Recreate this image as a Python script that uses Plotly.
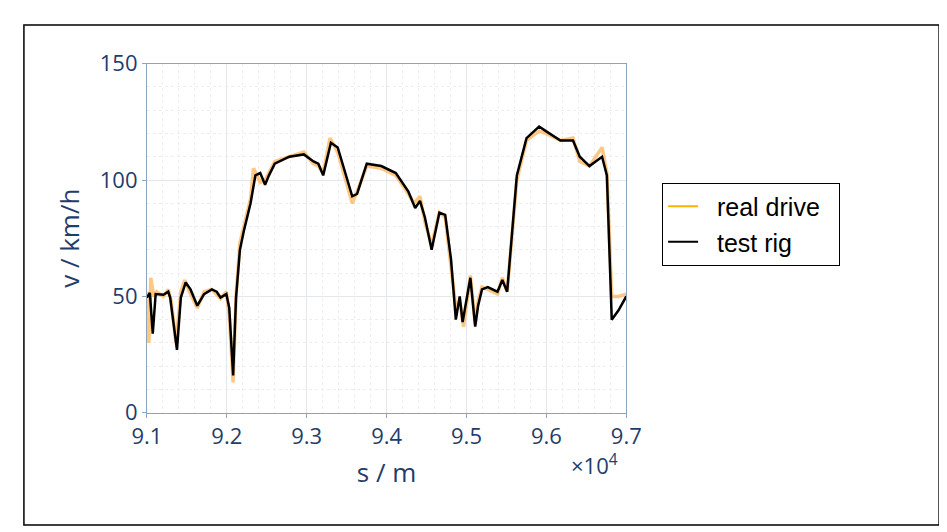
import plotly.graph_objects as go

px_rig = [128,131,134,137,145,150,152,159,163,168,173,180,187,195,200,204,210,213,217,220,224,228,235,240,245,250,254,260,275,290,300,305,310,318,325,340,345,355,370,385,398,405,410,415,422,430,436,442,447,451,454,462,467,470,474,480,490,495,500,510,520,533,540,555,568,575,585,598,603,608,615,623]
v_rig = [49.5,51.5,34,51,50.7,52,49.5,27,49.5,56,53,46,51,53,52,49.5,51,45,16,49.5,70,78,90,102,103,98,102,107,110,111,108,107,102,116,114,93,94,107,106,103,95,88,91,84,70,86,85,66,40,50,39,58,37,46,53,54,52,57,52,102,118,123,121,117,117,110,106,110,102,40,44,50]
s_rig = [91000 + (p - 128) * 6000 / 495 for p in px_rig]

px_real = [128,130,132,135,138,145,150,153,158,163,167,172,180,187,195,200,204,210,213,217,220,224,228,235,238,245,250,254,260,275,290,300,305,310,317,325,340,345,355,370,385,398,404,410,415,422,430,436,442,447,451,455,462,467,470,474,480,490,495,500,510,520,533,540,555,568,575,585,598,603,608,615,623]
v_real = [52,30,58,50,52,50,53,48,30,52,57,52,45,52,53,51,49,52,42,13,50,73,80,92,105,99,100,103,108,110,112,107,106,103,118,112,90,95,106,105,102,94,90,93,82,72,86,84,64,45,48,37,59,38,48,54,53,51,58,52,100,117,121,120,117,118,108,106,114,103,50,50,51]
s_real = [91000 + (p - 128) * 6000 / 495 for p in px_real]

tick_s = [91000, 92000, 93000, 94000, 95000, 96000, 97000]
tick_lbl = ["9.1", "9.2", "9.3", "9.4", "9.5", "9.6", "9.7"]

blue = "#1f3d6b"
fig = go.Figure()
fig.add_trace(go.Scatter(x=s_real, y=v_real, mode="lines", showlegend=False,
                         line=dict(color="rgba(253,180,90,0.75)", width=3.5)))
fig.add_trace(go.Scatter(x=s_rig, y=v_rig, mode="lines", showlegend=False,
                         line=dict(color="black", width=2.5)))
fig.add_trace(go.Scatter(x=[None], y=[None], mode="lines", name="  real drive  ",
                         line=dict(color="#f5b700", width=2)))
fig.add_trace(go.Scatter(x=[None], y=[None], mode="lines", name="  test rig",
                         line=dict(color="black", width=2)))

axcommon = dict(showline=True, mirror=True, linecolor="#8ea3bd", linewidth=1,
                gridcolor="#e3e8ee", ticks="outside", ticklen=4, tickcolor="#8ea3bd",
                tickfont=dict(family="Open Sans", size=22, color=blue), zeroline=False)
fig.update_layout(
    width=947, height=532, paper_bgcolor="white", plot_bgcolor="white",
    margin=dict(l=0, r=0, t=0, b=0),
    xaxis=dict(domain=[128/947, 623/947], range=[91000, 97000], tickvals=tick_s, ticktext=tick_lbl,
               minor=dict(showgrid=True, gridcolor="#eeeeee", griddash="dot", dtick=200),
               title=dict(text="s / m", font=dict(family="Open Sans", size=26, color=blue), standoff=14),
               **axcommon),
    yaxis=dict(domain=[120/532, 490/532], range=[0, 150], tickvals=[0, 50, 100, 150],
               minor=dict(showgrid=True, gridcolor="#eeeeee", griddash="dot", dtick=10),
               title=dict(text="v / km/h", font=dict(family="Open Sans", size=26, color=blue), standoff=12),
               **axcommon),
    legend=dict(x=660/947, y=(532-168)/532, xanchor="left", yanchor="top",
                bordercolor="black", borderwidth=1, bgcolor="white",
                font=dict(family="Liberation Sans", size=25, color="black"),
                tracegroupgap=0, itemwidth=30),
    shapes=[dict(type="rect", xref="paper", yref="paper", x0=0.001, y0=0.002, x1=0.999, y1=0.998,
                 line=dict(color="black", width=1.5))],
    annotations=[dict(text="×10<sup>4</sup>", xref="paper", yref="paper", x=590/947, y=(532-485)/532,
                      showarrow=False, font=dict(family="Open Sans", size=22, color=blue))],
)
fig.write_html("out.html")
